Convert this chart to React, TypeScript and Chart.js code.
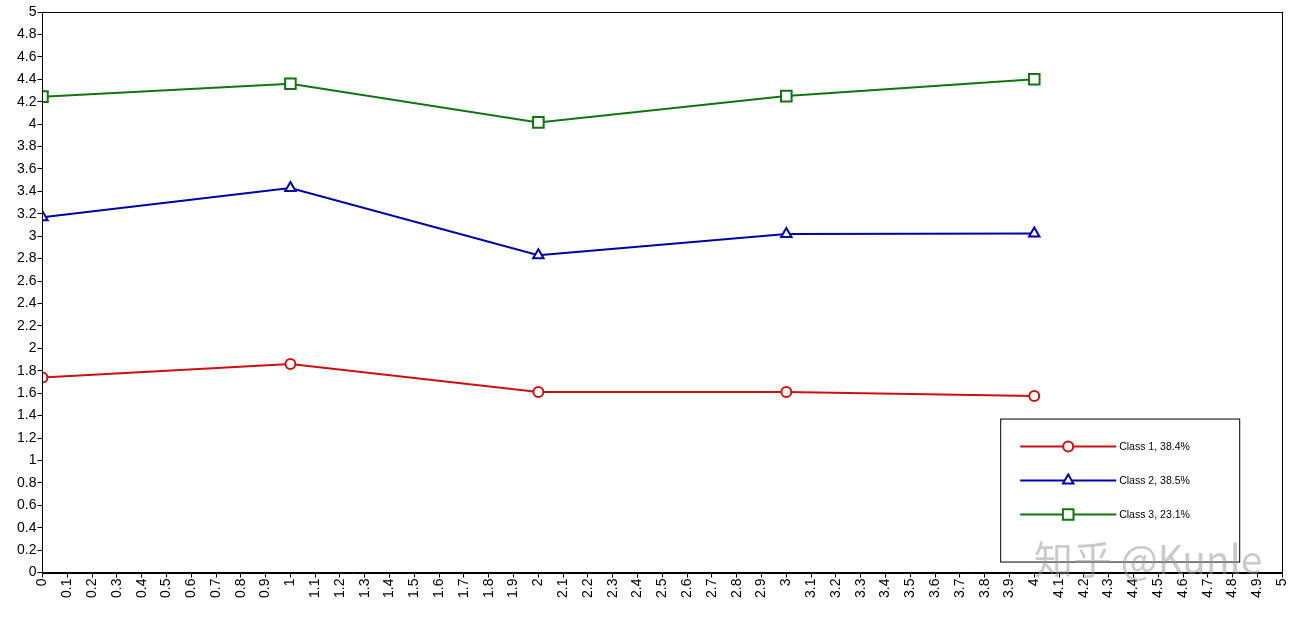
import { useEffect, useRef } from "react"
import { Chart, registerables, type ChartConfiguration, type Plugin } from "chart.js"

Chart.register(...registerables)

// x positions of the measured points
const xValues = [0, 1, 2, 3, 4]

const class1 = [1.74, 1.86, 1.61, 1.61, 1.575]
const class2 = [3.17, 3.43, 2.83, 3.02, 3.025]
const class3 = [4.245, 4.36, 4.015, 4.25, 4.4]

const seriesLabels = ["Class 1, 38.4%", "Class 2, 38.5%", "Class 3, 23.1%"]
const seriesColors = ["#cc1010", "#0000a8", "#107510"]
const seriesMarkers = ["circle", "triangle", "rect"] as const
const markerRadius = [5, 6, 7.5]

const FONT = "'Liberation Sans', Arial, sans-serif"

const fmt = (v: number | string) => String(Math.round(Number(v) * 10) / 10)

// frame around the whole plot area (top + right edges too)
const framePlugin: Plugin = {
  id: "frame",
  afterDraw(chart) {
    const { ctx, chartArea: a } = chart
    ctx.save()
    ctx.strokeStyle = "#000"
    ctx.lineWidth = 1
    ctx.strokeRect(Math.round(a.left) + 0.5, Math.round(a.top) + 0.5, Math.round(a.right - a.left), Math.round(a.bottom - a.top))
    ctx.restore()
  },
}

// boxed legend in the lower right, line with marker through it
const legendPlugin: Plugin = {
  id: "boxLegend",
  afterDraw(chart) {
    const { ctx, chartArea: a } = chart
    const left = a.right - 282
    const top = a.bottom - 154
    ctx.save()
    ctx.fillStyle = "#fff"
    ctx.fillRect(left, top, 239, 143)
    ctx.strokeStyle = "#000"
    ctx.lineWidth = 1
    ctx.strokeRect(left + 0.5, top + 0.5, 239, 143)
    chart.data.datasets.forEach((ds: any, i) => {
      const y = top + 28 + i * 34
      const cx = left + 68
      ctx.strokeStyle = ds.borderColor
      ctx.lineWidth = 2
      ctx.beginPath()
      ctx.moveTo(left + 20, y)
      ctx.lineTo(left + 116, y)
      ctx.stroke()
      ctx.fillStyle = "#fff"
      ctx.beginPath()
      const r = ds.pointRadius
      if (ds.pointStyle === "circle") {
        ctx.arc(cx, y, r, 0, Math.PI * 2)
      } else if (ds.pointStyle === "triangle") {
        ctx.moveTo(cx, y - r)
        ctx.lineTo(cx + r * 0.866, y + r * 0.5)
        ctx.lineTo(cx - r * 0.866, y + r * 0.5)
        ctx.closePath()
      } else {
        const s = r * Math.SQRT1_2
        ctx.rect(cx - s, y - s, 2 * s, 2 * s)
      }
      ctx.fill()
      ctx.stroke()
      ctx.fillStyle = "#000"
      ctx.font = `10.5px ${FONT}`
      ctx.textBaseline = "middle"
      ctx.fillText(ds.label, left + 119, y + 1)
    })
    ctx.restore()
  },
}

export default function App() {
  const canvasRef = useRef<HTMLCanvasElement>(null)
  const chartInstance = useRef<Chart | null>(null)

  useEffect(() => {
    document.body.style.margin = "0"
    if (!canvasRef.current) return
    const ctx = canvasRef.current.getContext("2d")
    if (!ctx) return

    if (chartInstance.current) {
      chartInstance.current.destroy()
    }

    const series = [class1, class2, class3]

    const config: ChartConfiguration<"line"> = {
      type: "line",
      data: {
        datasets: series.map((vals, i) => ({
          label: seriesLabels[i],
          data: vals.map((v, j) => ({ x: xValues[j], y: v })),
          borderColor: seriesColors[i],
          backgroundColor: "#fff",
          borderWidth: 2,
          pointStyle: seriesMarkers[i],
          pointRadius: markerRadius[i],
          pointBorderWidth: 2,
          pointBackgroundColor: "#fff",
          pointBorderColor: seriesColors[i],
          tension: 0,
          fill: false,
        })),
      },
      options: {
        responsive: true,
        maintainAspectRatio: false,
        animation: false,
        layout: { padding: { left: 16, right: 16, top: 12, bottom: 18 } },
        plugins: {
          legend: { display: false },
          tooltip: { enabled: false },
        },
        scales: {
          x: {
            type: "linear",
            min: 0,
            max: 5,
            border: { color: "#000", width: 1 },
            grid: { drawOnChartArea: false, drawTicks: true, tickLength: 5, color: "#000" },
            ticks: {
              stepSize: 0.1,
              autoSkip: false,
              minRotation: 90,
              maxRotation: 90,
              padding: 1,
              color: "#000",
              font: { family: FONT, size: 14 },
              callback: (v) => fmt(v),
            },
          },
          y: {
            type: "linear",
            min: 0,
            max: 5,
            border: { color: "#000", width: 1 },
            grid: { drawOnChartArea: false, drawTicks: true, tickLength: 5, color: "#000" },
            ticks: {
              stepSize: 0.2,
              autoSkip: false,
              padding: 1,
              color: "#000",
              font: { family: FONT, size: 14 },
              callback: (v) => fmt(v),
            },
          },
        },
      },
      plugins: [framePlugin, legendPlugin],
    }

    chartInstance.current = new Chart(ctx, config)

    return () => {
      if (chartInstance.current) {
        chartInstance.current.destroy()
        chartInstance.current = null
      }
    }
  }, [])

  return (
    <div style={{ position: "relative", width: 1300, height: 617, background: "#fff" }}>
      <canvas ref={canvasRef} />
      <div
        style={{
          position: "absolute",
          left: 1034,
          top: 534,
          fontFamily: "'Noto Sans CJK SC', sans-serif",
          fontSize: 39,
          lineHeight: "46px",
          color: "rgba(150,150,150,0.5)",
          whiteSpace: "nowrap",
          pointerEvents: "none",
        }}
      >
        知乎 @Kunle
      </div>
    </div>
  )
}
